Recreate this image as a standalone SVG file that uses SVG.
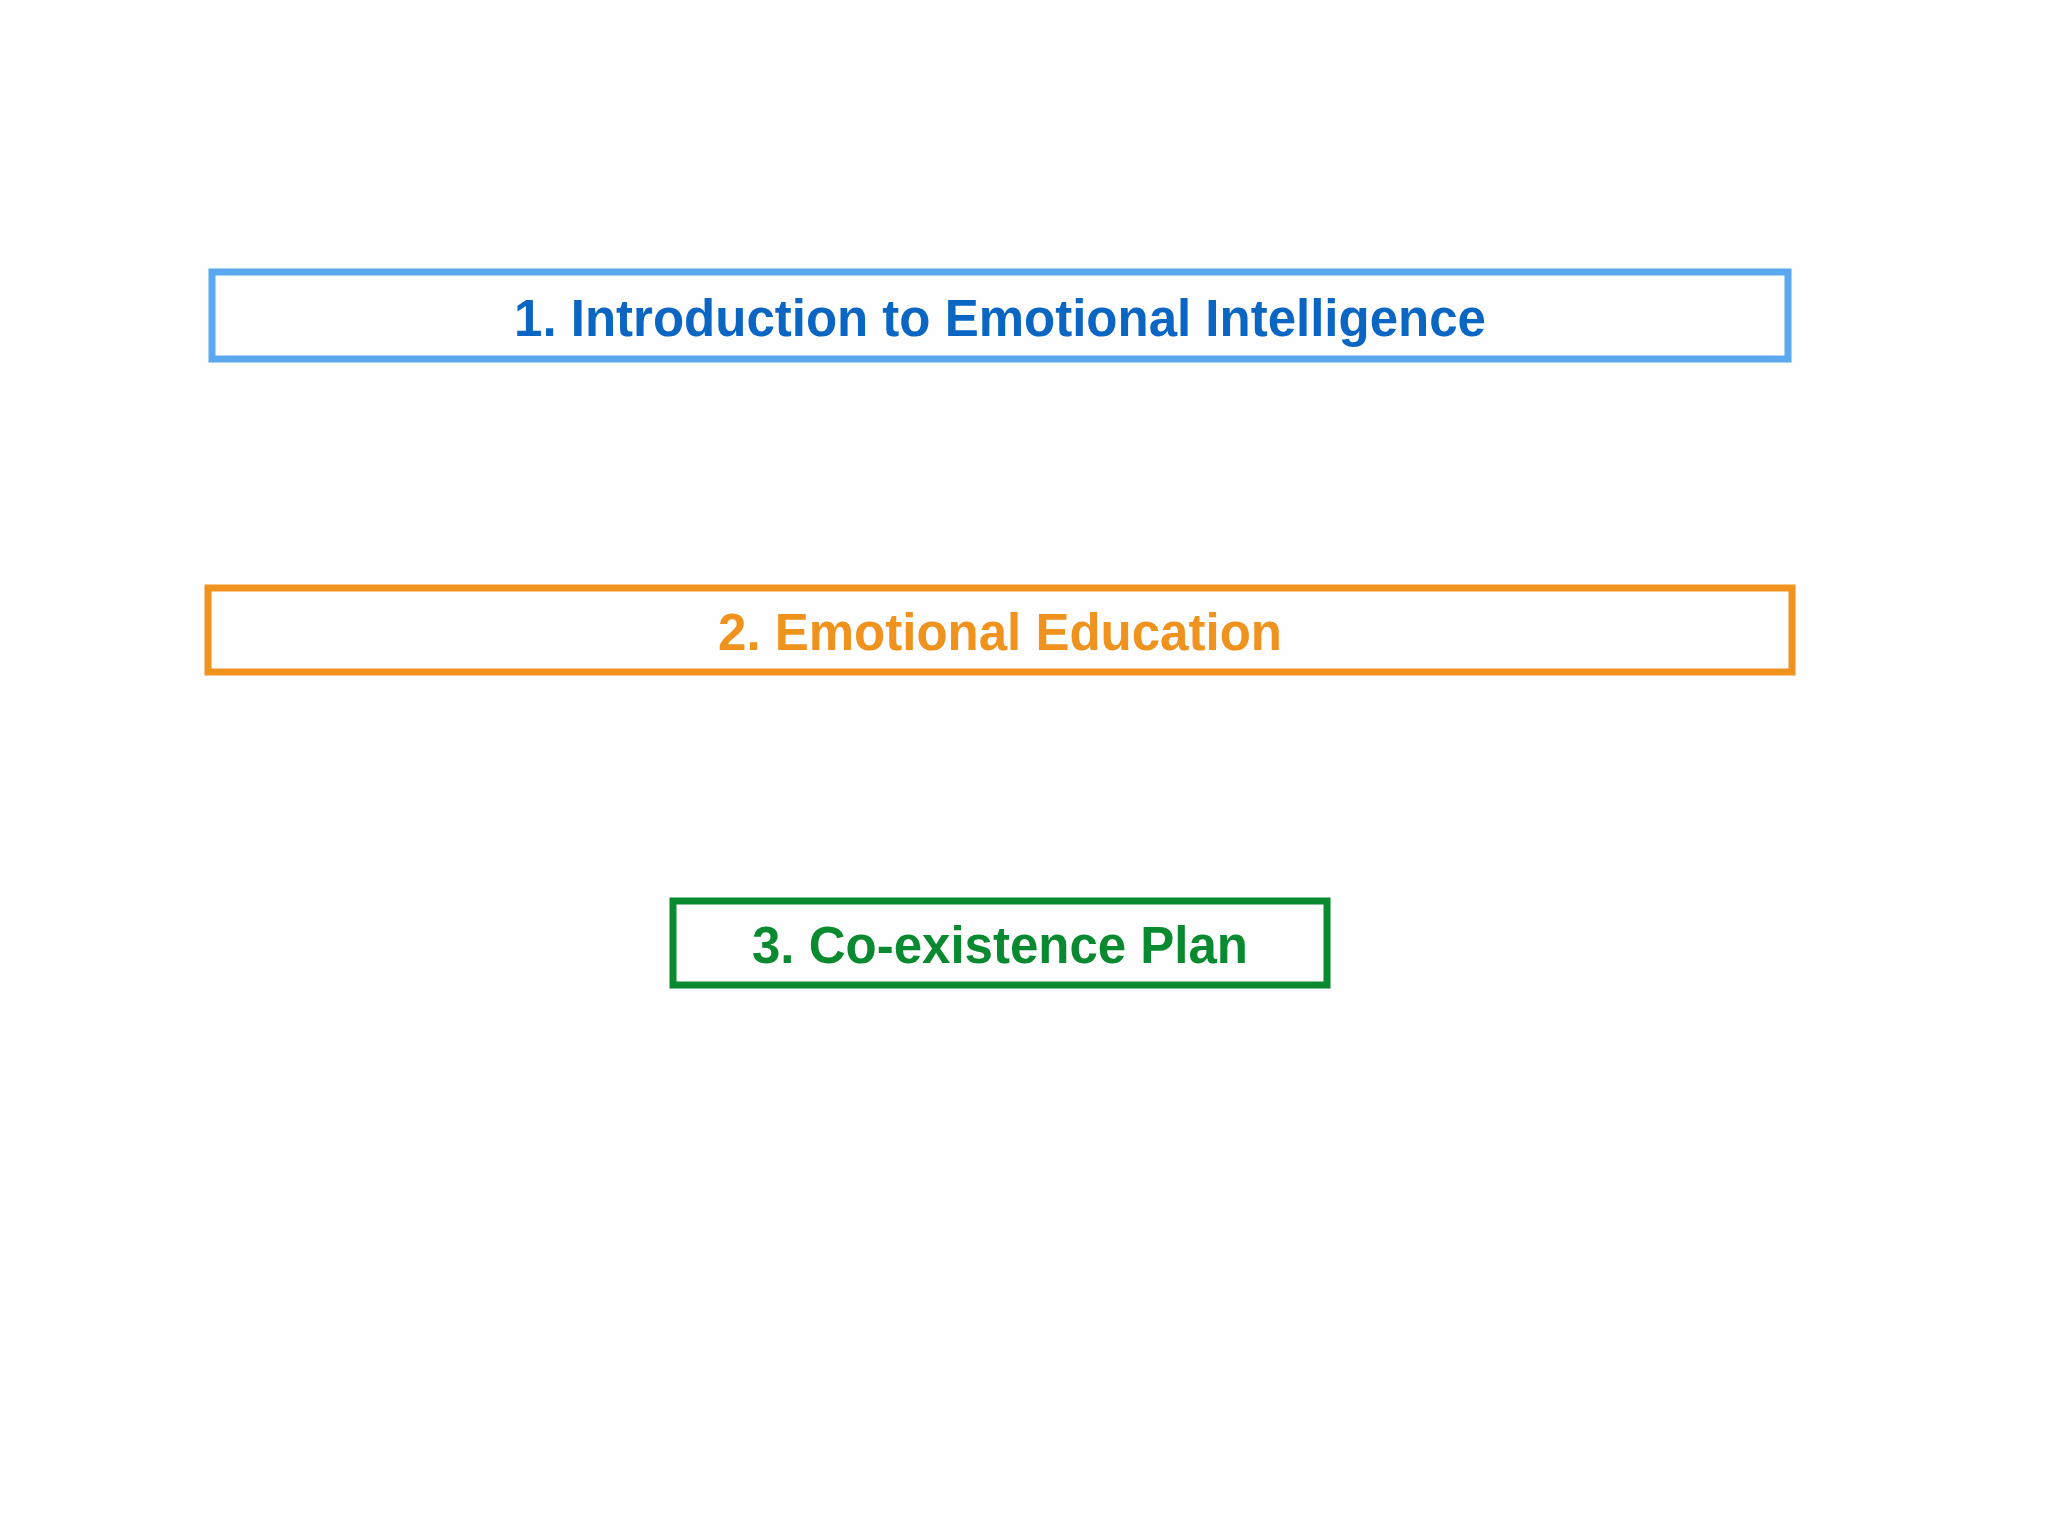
<svg xmlns="http://www.w3.org/2000/svg" width="2048" height="1536" viewBox="0 0 2048 1536">
<style>
rect{fill:#fdfefd;stroke-width:7}
text{font-family:"Liberation Sans",Arial,sans-serif;font-weight:bold;font-size:51px;text-anchor:middle}
</style>
<rect width="2048" height="1536" fill="#fff" style="stroke:none"/>
<g id="n1"><rect x="212" y="272" width="1576" height="87" stroke="#5aa8f0"/><text x="1000" y="336" fill="#0a66c2">1. Introduction to Emotional Intelligence</text></g>
<g id="n2"><rect x="208" y="588" width="1584" height="84" stroke="#f0921e"/><text x="1000" y="650" fill="#f0921e">2. Emotional Education</text></g>
<g id="n3"><rect x="673" y="901" width="654" height="84" stroke="#0a8a30"/><text x="1000" y="963" fill="#0a8a30">3. Co-existence Plan</text></g>
<g id="connectors"/>
</svg>
